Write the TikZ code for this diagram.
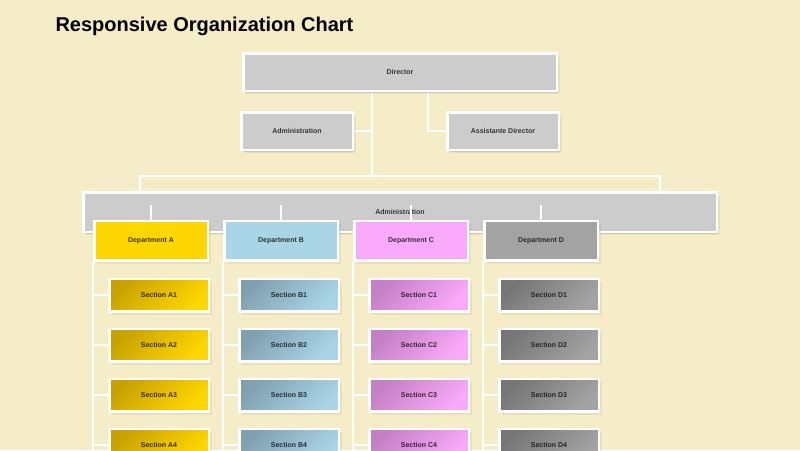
\documentclass[tikz,border=0pt]{standalone}
\usepackage{fontspec}
\setmainfont{Liberation Sans}
\usetikzlibrary{shadows}
\definecolor{bg}{RGB}{245,236,200}
\definecolor{boxgray}{RGB}{204,204,204}
\definecolor{gA}{RGB}{255,215,0}
\definecolor{dA}{RGB}{200,162,0}
\definecolor{gB}{RGB}{170,213,230}
\definecolor{dB}{RGB}{128,160,176}
\definecolor{gC}{RGB}{250,170,250}
\definecolor{dC}{RGB}{196,128,196}
\definecolor{gD}{RGB}{163,163,163}
\definecolor{dD}{RGB}{118,118,118}
\pgfdeclarelayer{back}
\pgfdeclarelayer{wires}
\pgfdeclarelayer{mid}
\pgfdeclarelayer{midwires}
\pgfsetlayers{back,wires,mid,midwires,main}
\begin{document}
\begin{tikzpicture}[x=1pt,y=-1pt,
  box/.style={draw=white, line width=2.5pt, inner sep=0pt,
    font=\bfseries\fontsize{7}{8}\selectfont, text=black, text opacity=0.75,
    drop shadow={shadow xshift=3pt, shadow yshift=-3.5pt, opacity=0.05, fill=black},
    drop shadow={shadow xshift=1.5pt, shadow yshift=-2pt, opacity=0.09, fill=black}},
  graybox/.style={box, fill=boxgray},
  deptbox/.style={box, minimum width=113.5pt, minimum height=39.5pt},
  secbox/.style={box, minimum width=99.5pt, minimum height=32.5pt},
  conn/.style={draw=white, line width=2pt}]
\begin{pgfonlayer}{back}
\fill[bg] (0,0) rectangle (800,450);
\end{pgfonlayer}
\useasboundingbox (0,0) rectangle (800,450);

\node[anchor=base west, font=\bfseries\fontsize{20}{24}\selectfont, text=black] (title) at (52,31) {Responsive Organization Chart};

\node[graybox, minimum width=313.5pt, minimum height=37.5pt] (dir) at (400,72) {Director};
\node[graybox, minimum width=111.5pt, minimum height=37.5pt] (adm) at (297,131) {Administration};
\node[graybox, minimum width=111.5pt, minimum height=37.5pt] (asst) at (503,131) {Assistante Director};
\begin{pgfonlayer}{mid}
\node[graybox, minimum width=633.5pt, minimum height=39.5pt] (big) at (400,212) {Administration};
\end{pgfonlayer}

\coordinate (trunk) at (372,176);
\coordinate (aj) at (428,131);
\coordinate (busL) at (140,176);
\coordinate (busR) at (660,176);

\foreach \L/\x in {A/151,B/281,C/411,D/541} {
  \node[deptbox, fill=g\L] (dep\L) at (\x,240.5) {Department \L};
  \foreach \i in {1,...,4} {
    \node[secbox, left color=d\L, right color=g\L, shading angle=45] (sec\L\i) at (\x+8,245+50*\i) {Section \L\i};
  }
}

\begin{pgfonlayer}{wires}
\draw[conn] (dir.south -| trunk) -- (trunk);
\draw[conn] (adm.east) -- (adm.east -| trunk);
\draw[conn] (dir.south -| aj) |- (asst.west);
\draw[conn] (big.north -| busL) |- (busR) -- (big.north -| busR);
\foreach \L in {A,B,C,D} {
  \coordinate (v\L) at ([xshift=0.2pt]dep\L.south west);
  \draw[conn] (v\L) -- ([yshift=-30pt]sec\L4.west -| v\L);
  \foreach \i in {1,...,4} {
    \draw[conn] (sec\L\i.west -| v\L) -- (sec\L\i.west);
  }
}
\end{pgfonlayer}
\begin{pgfonlayer}{midwires}
\foreach \L in {A,B,C,D} {
  \draw[conn] (dep\L.north) -- ++(0,-15);
}
\end{pgfonlayer}
\end{tikzpicture}
\end{document}
